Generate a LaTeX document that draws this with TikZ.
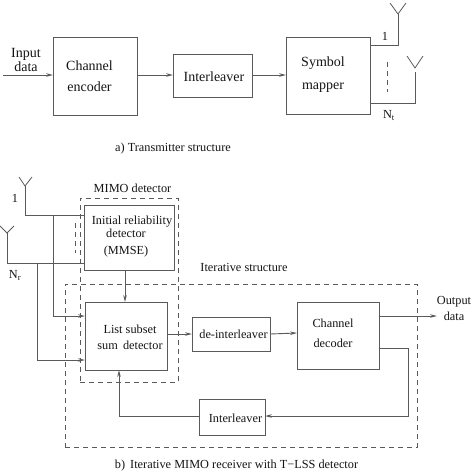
\documentclass[tikz,border=0pt]{standalone}
\usepackage{fontspec}
\setmainfont{Liberation Serif}
\usepackage{xcolor}
\usetikzlibrary{arrows.meta,positioning,calc}
\definecolor{wire}{RGB}{90,90,90}
\definecolor{ink}{RGB}{20,20,20}
\newcommand{\bigfont}{\fontsize{14}{16}\selectfont}
\newcommand{\smallfont}{\fontsize{12.3}{14}\selectfont}
\tikzset{
  blockbox/.style={draw=wire, line width=0.9pt, inner sep=0pt, outer sep=0pt},
  dashbox/.style={draw=wire, line width=0.8pt, dash pattern=on 5pt off 4pt, inner sep=0pt, outer sep=0pt},
  wireline/.style={draw=wire, line width=0.9pt},
  wirearrow/.style={wireline, -{Stealth[length=7pt, width=3.5pt]}},
  antenna/.style={draw=wire, line width=0.8pt},
  bigtext/.style={text=ink, font=\bigfont, align=center, inner sep=0pt},
  smalltext/.style={text=ink, font=\smallfont, align=center, inner sep=0pt}
}

\begin{document}
\begin{tikzpicture}[x=1pt, y=-1pt]
  \useasboundingbox (0,0) rectangle (474,475);

  % Transmitter blocks
  \node[blockbox, minimum width=84pt, minimum height=78pt] (encoder) at (95,76) {};
  \node[blockbox, minimum width=79pt, minimum height=43pt] (txinter) at (212.5,75.5) {};
  \node[blockbox, minimum width=84pt, minimum height=77pt] (mapper) at (328,75.5) {};
  \node[bigtext] (encodertext) at (89.5,76) {Channel\\[5pt]encoder};
  \node[bigtext] (txintertext) at (214,77) {Interleaver};
  \node[bigtext] (mappertext) at (323,74.5) {Symbol\\[7pt]mapper};

  % Transmitter wires
  \coordinate (txin) at (3,75);
  \draw[wirearrow] (txin) -- (txin -| encoder.west);
  \draw[wirearrow] (encoder.east |- txin) -- (txinter.west |- txin);
  \draw[wirearrow] (txinter.east |- txin) -- (mapper.west |- txin);
  \node[bigtext] (inputtext) at (26,60) {Input\\[-1.5pt]data};

  % Transmit antennas
  \coordinate (txone) at (398,14);
  \coordinate (txlast) at (415,72);
  \draw[wireline] ([yshift=30.5pt]mapper.east) -- (txone |- 0,45) -- (txone);
  \draw[wireline] ([yshift=-27.5pt]mapper.east) -- (txlast |- 0,103) -- (txlast);
  \draw[antenna] (390,3) -- (398,14) -- (406,3);
  \draw[antenna] (407,56) -- (415,68) -- (423,56);
  \draw[wire, line width=0.8pt, dash pattern=on 5pt off 4pt] (387,62) -- (387,92);
  \node[smalltext] (txonetext) at (385,36) {1};
  \node[smalltext] (txlasttext) at (389,115.5) {N\textsubscript{t}};
  \node[smalltext] (captiona) at (173,149) {a) Transmitter structure};

  % Receiver blocks
  \node[blockbox, minimum width=90.5pt, minimum height=65pt] (initial) at (129.25,237.5) {};
  \node[blockbox, minimum width=82pt, minimum height=68pt] (list) at (126,336) {};
  \node[blockbox, minimum width=78pt, minimum height=34pt] (deinter) at (231,334) {};
  \node[blockbox, minimum width=82pt, minimum height=67pt] (decoder) at (338,335.5) {};
  \node[blockbox, minimum width=66pt, minimum height=36pt] (rxinter) at (232,417) {};

  % Dashed groups
  \node[dashbox, minimum width=98pt, minimum height=184pt] (mimo) at (129,290) {};
  \node[dashbox, minimum width=352pt, minimum height=163pt] (iter) at (241,365.5) {};

  % Receiver texts
  \node[smalltext] (initialtext) at (132,222) {Initial reliability};
  \node[smalltext] (mmsetext) at (126,243.5) {detector\\[3pt](MMSE)};
  \node[smalltext] (listtext) at (130,337) {List subset\\[2pt]sum\, detector};
  \node[smalltext] (deintertext) at (233.5,334) {de-interleaver};
  \node[smalltext] (decodertext) at (333,333) {Channel\\[6pt]decoder};
  \node[smalltext] (rxintertext) at (235.5,418) {Interleaver};
  \node[smalltext] (mimotext) at (132.5,188) {MIMO detector};
  \node[smalltext] (itertext) at (244,267) {Iterative structure};
  \node[smalltext] (outputtext) at (454,308) {Output\\[2pt]data};
  \node[smalltext] (captionb) at (236.5,466) {b)\, Iterative MIMO receiver with T−LSS detector};

  % Receive antennas
  \coordinate (rxone) at (25,186);
  \coordinate (rxlast) at (7,233);
  \coordinate (rxonebranch) at (53.5,215);
  \coordinate (rxlastbranch) at (37.5,263);
  \draw[antenna] (19,177) -- (rxone) -- (32,177);
  \draw[antenna] (0,226) -- (rxlast) -- (14,226);
  \draw[wireline] (rxone) -- (rxone |- rxonebranch) -- (initial.west |- rxonebranch);
  \draw[wireline] (rxlast) -- (rxlast |- rxlastbranch) -- (initial.west |- rxlastbranch);
  \draw[wirearrow] (rxonebranch) -- ++(0,101) -- ([yshift=20pt]list.west);
  \draw[wirearrow] (rxlastbranch) -- ++(0,97) -- ([yshift=-24pt]list.west);
  \draw[wire, line width=0.8pt, dash pattern=on 5pt off 4pt] (75,223) -- (75,253);
  \node[smalltext] (rxonetext) at (15,198) {1};
  \node[smalltext] (rxlasttext) at (15,275.5) {N\textsubscript{r}};

  % Receiver wires
  \coordinate (feedback) at (408,416);
  \coordinate (output) at (437,316);
  \draw[wirearrow] (initial.south -| 125,0) -- (list.north -| 125,0);
  \draw[wirearrow] ([yshift=2pt]list.east) -- ([yshift=0pt]deinter.west);
  \draw[wirearrow] (deinter.east) -- ([yshift=2.5pt]decoder.west);
  \draw[wirearrow] ([yshift=19.5pt]decoder.east) -- (output);
  \draw[wirearrow] ([yshift=-12.5pt]decoder.east) -- (feedback |- 0,348) -- (feedback) -- ([yshift=1pt]rxinter.east);
  \draw[wirearrow] ([yshift=1pt]rxinter.west) -- (119,416) -- (list.south -| 119,0);
\end{tikzpicture}
\end{document}
